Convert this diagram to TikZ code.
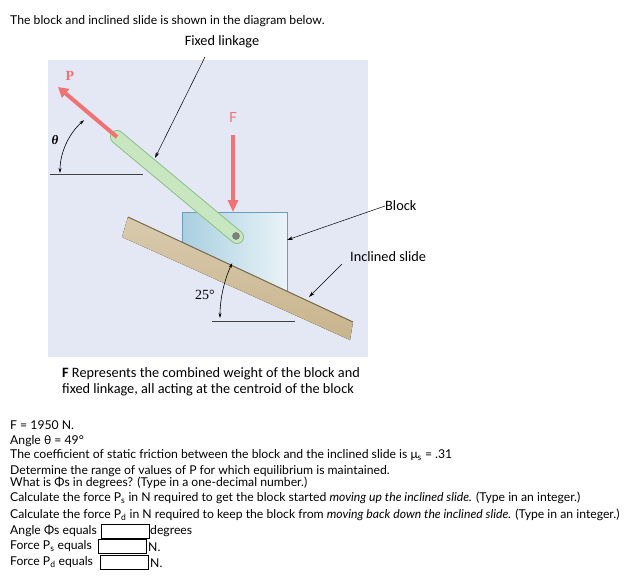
\documentclass[tikz,border=0pt]{standalone}
\usepackage{fontspec}
\setmainfont{Lato}
\newfontfamily\calib{Carlito}
\newfontfamily\serifp{Liberation Serif}
\usetikzlibrary{arrows.meta}
\definecolor{panel}{HTML}{E4E8F4}
\definecolor{redarr}{HTML}{F07272}
\definecolor{rodg}{HTML}{C8E6C0}
\definecolor{rodd}{HTML}{8CC08A}
\definecolor{blk}{HTML}{A9CFE0}
\definecolor{blkd}{HTML}{6A9DC0}
\definecolor{tan}{HTML}{C8B48C}
\definecolor{tand}{HTML}{7A6A48}
\tikzset{
 lbl/.style={inner sep=0pt},
 txt/.style={inner sep=0pt,anchor=west,font=\fontsize{12.2}{13}\selectfont},
 captxt/.style={inner sep=0pt,font=\calib\fontsize{14.3}{15.5}\selectfont},
 ptr/.style={-{Stealth[length=6pt,width=3.5pt]},line width=0.5pt},
 ansbox/.style={draw,line width=0.6pt,minimum width=48pt,minimum height=14pt,inner sep=0pt},
 dimarr/.style={{Stealth[length=5pt,width=3pt]}-{Stealth[length=5pt,width=3pt]},line width=0.6pt},
}
\begin{document}
\begin{tikzpicture}[x=1pt,y=-1pt]
\useasboundingbox (0,0) rectangle (641,584);
\fill[panel] (48,60) rectangle (368,357);
% block
\begin{scope}
\clip (182,212) -- (287,212) -- (287,293) -- (182,244) -- cycle;
\shade[left color=blk,right color=blk!25!white] (182,212) rectangle (287,300);
\end{scope}
\draw[blkd,line width=0.8pt] (182,244) -- (182,212) -- (287,212) -- (287,293);
% incline
\fill[top color=tan!70!white,bottom color=tan] (128,217) -- (353,322) -- (350,340) -- (122,237) -- cycle;
\draw[tand,line width=1pt] (128,217) -- (353,322);
% rod
\draw[rodd,line width=14pt,line cap=round] (117,137) -- (237,237);
\draw[rodg,line width=12pt,line cap=round] (117,137) -- (237,237);
\coordinate (rodtop) at (117,137);
\node[circle,draw=rodg!50!black,fill=gray,minimum size=7pt,inner sep=0pt] (pin) at (236,236) {};
% P arrow
\coordinate (ptip) at (58,87);
\draw[redarr,line width=4pt,-{Triangle[length=10pt,width=11pt]}] (rodtop) -- (ptip);
\node[lbl,text=redarr,font=\serifp\bfseries\fontsize{14}{14}\selectfont] (P) at (70,76) {P};
% theta
\draw[line width=1pt,black!75] (50,174) -- (143,174);
\draw[dimarr] (60,173) arc[start angle=180,end angle=229,radius=70];
\node[lbl,font=\serifp\bfseries\itshape\fontsize{13}{13}\selectfont] (th) at (55,140) {θ};
% F arrow
\coordinate (ftop) at (233,135);
\coordinate (fbot) at (233,212);
\draw[redarr,line width=3.5pt,-{Triangle[length=12pt,width=10pt]}] (ftop) -- (fbot);
\node[lbl,text=redarr,font=\fontsize{14}{14}\selectfont] (F) at (233,117) {F};
% 25 deg
\draw[line width=1pt,black!75] (212,321) -- (295,321);
\draw[dimarr] (220,318) arc[start angle=180,end angle=205,radius=130];
\node[lbl,font=\serifp\fontsize{14}{14}\selectfont] (a25) at (205,295) {25°};
% labels and pointers
\node[captxt] (fl) at (222,42) {Fixed linkage};
\coordinate (flt) at (155,158);
\draw[ptr] (205,57) -- (flt);
\node[captxt,anchor=west] (bl) at (385,206) {Block};
\coordinate (blt) at (287,240);
\draw[ptr] (bl.west) -- (blt);
\node[captxt,anchor=west] (isl) at (350,257) {Inclined slide};
\coordinate (ist) at (309,297);
\draw[ptr] (342,264) -- (ist);
\node[captxt,anchor=west,align=left] (capt) at (62,382) {\textbf{F} Represents the combined weight of the block and\\fixed linkage, all acting at the centroid of the block};
% header
\node[txt] (hdr) at (10,21) {The block and inclined slide is shown in the diagram below.};
% body text
\node[txt] at (10,425) {F = 1950 N.};
\node[txt] at (10,441) {Angle θ = 49°};
\node[txt] at (10,455) {The coefficient of static friction between the block and the inclined slide is μ\textsubscript{s} = .31};
\node[txt] at (10,471) {Determine the range of values of P for which equilibrium is maintained.};
\node[txt] at (10,483) {What is Φs in degrees? (Type in a one-decimal number.)};
\node[txt] at (10,498) {Calculate the force P\textsubscript{s} in N required to get the block started \textit{moving up the inclined slide.} (Type in an integer.)};
\node[txt] at (10,515) {Calculate the force P\textsubscript{d} in N required to keep the block from \textit{moving back down the inclined slide.} (Type in an integer.)};
\node[txt] (l1) at (10,531) {Angle Φs equals};
\node[ansbox,anchor=west] (b1) at (101,531) {};
\node[txt] at (150,531) {degrees};
\node[txt] (l2) at (10,546) {Force P\textsubscript{s} equals};
\node[ansbox,anchor=west] (b2) at (98,546) {};
\node[txt] at (148,547) {N.};
\node[txt] (l3) at (10,562) {Force P\textsubscript{d} equals};
\node[ansbox,anchor=west] (b3) at (100,562) {};
\node[txt] at (150,563) {N.};
\end{tikzpicture}
\end{document}
